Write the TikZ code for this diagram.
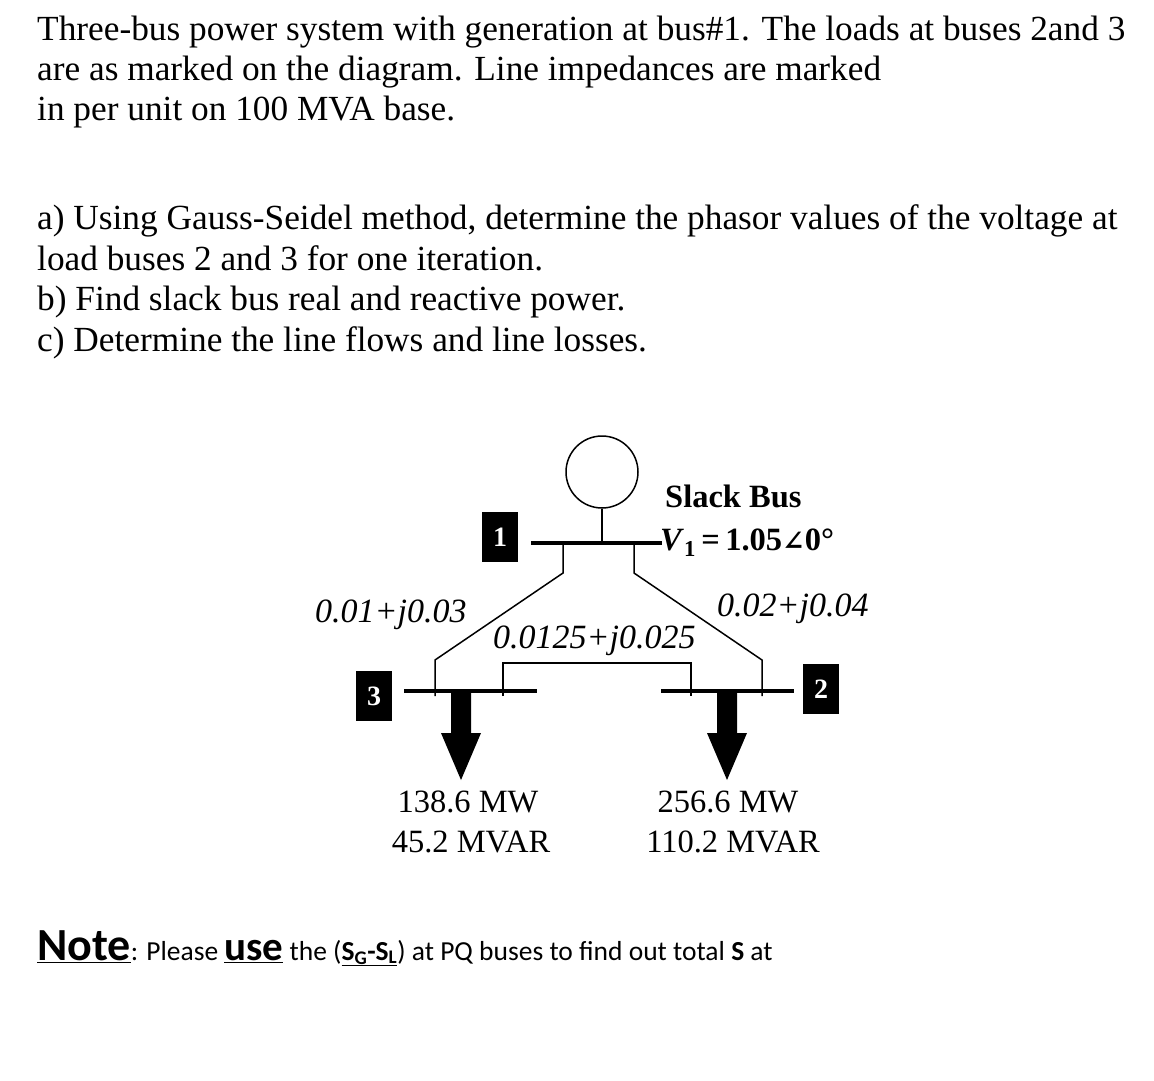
\documentclass[tikz,border=0pt]{standalone}
\usepackage{fontspec}
\setmainfont{Liberation Serif}
\newfontfamily\notefont{Carlito}
\begin{document}
\begin{tikzpicture}[x=1pt,y=-1pt,
  txt/.style={anchor=base west,inner sep=0pt,font=\fontsize{35.3}{35}\selectfont},
  dtxt/.style={inner sep=0pt,font=\fontsize{32.5}{32}\selectfont},
  itxt/.style={inner sep=0pt,anchor=base west,font=\itshape\fontsize{34}{34}\selectfont},
  btxt/.style={inner sep=0pt,anchor=base west,font=\bfseries\fontsize{32.5}{32}\selectfont},
  bus/.style={line width=4.5pt},
  wire/.style={line width=1.5pt},
  lbl/.style={fill=black,text=white,font=\bfseries\fontsize{28}{28}\selectfont,minimum width=36pt,minimum height=50pt,inner sep=0pt},
  load/.style={fill=black}]
\useasboundingbox (0,0) rectangle (1154,1080);
\node[txt] (t1) at (37,40) {Three-bus power system with generation at bus\#1. The loads at buses 2and 3};
\node[txt] (t2) at (37,80) {are as marked on the diagram. Line impedances are marked};
\node[txt] (t3) at (37,120) {in per unit on 100 MVA base.};
\node[txt] (t4) at (37,229) {a) Using Gauss-Seidel method, determine the phasor values of the voltage at};
\node[txt] (t5) at (37,270) {load buses 2 and 3 for one iteration.};
\node[txt] (t6) at (37,310) {b) Find slack bus real and reactive power.};
\node[txt] (t7) at (37,351) {c) Determine the line flows and line losses.};
% generator
\node[draw,circle,line width=1.5pt,minimum size=72pt,inner sep=0pt] (gen) at (602,472) {};
\coordinate (b1w) at (531,543); \coordinate (b1e) at (662,543);
\coordinate (b1m) at (602,543);
\draw[bus] (b1w) -- (b1e);
\draw[wire] (gen.south) -- (b1m);
\coordinate (b3w) at (404,691); \coordinate (b3e) at (537,691);
\coordinate (b2w) at (661,691); \coordinate (b2e) at (794,691);
\draw[bus] (b3w) -- (b3e);
\draw[bus] (b2w) -- (b2e);
\coordinate (d1a) at (563,543); \coordinate (d1b) at (563,573);
\coordinate (d2a) at (634,543); \coordinate (d2b) at (634,573);
\coordinate (l3a) at (435,660); \coordinate (l3b) at (435,696);
\coordinate (r2a) at (762,660); \coordinate (r2b) at (762,696);
\draw[wire] (d1a) -- (d1b) -- (l3a) -- (l3b);
\draw[wire] (d2a) -- (d2b) -- (r2a) -- (r2b);
\coordinate (m3) at (503,696); \coordinate (m3t) at (503,663);
\coordinate (m2) at (691,696); \coordinate (m2t) at (691,663);
\draw[wire] (m3) -- (m3t) -- (m2t) -- (m2);
% loads
\fill[load] (451,691) -- (471,691) -- (471,733) -- (481,733) -- (461,780) -- (441,733) -- (451,733) -- cycle;
\fill[load] (717,691) -- (737,691) -- (737,733) -- (747,733) -- (727,780) -- (707,733) -- (717,733) -- cycle;
\node[lbl] (n1) at (500,537) {1};
\node[lbl] (n3) at (374,696) {3};
\node[lbl] (n2) at (821,689) {2};
\node[btxt] (sb) at (665,507) {Slack Bus};
\node[btxt] (v1) at (660,550) {\textit{V}$_{\mathbf 1}$\,=\,1.05\fontspec{DejaVu Serif}\fontsize{27}{27}\selectfont∠\fontspec{Liberation Serif}\bfseries\fontsize{32.5}{32}\selectfont0°};
\node[itxt] (z13) at (315,622) {0.01+j0.03};
\node[itxt] (z23) at (493,648) {0.0125+j0.025};
\node[itxt] (z12) at (717,616) {0.02+j0.04};
\node[dtxt,anchor=base] (p3) at (468,812) {138.6 MW};
\node[dtxt,anchor=base] (q3) at (471,852) {45.2 MVAR};
\node[dtxt,anchor=base] (p2) at (728,812) {256.6 MW};
\node[dtxt,anchor=base] (q2) at (733,852) {110.2 MVAR};
\node[anchor=base west,inner sep=0pt,font=\notefont\fontsize{27.5}{27}\selectfont] (note) at (37,960)
 {{\bfseries\fontsize{46}{46}\selectfont\underline{Note}}: Please {\bfseries\fontsize{41}{41}\selectfont\underline{use}} the (\underline{\textbf{S}\textbf{\textsubscript{G}}}\underline{\textbf{-S}\textbf{\textsubscript{L}}}) at PQ buses to find out total \textbf{S} at};
\end{tikzpicture}
\end{document}
